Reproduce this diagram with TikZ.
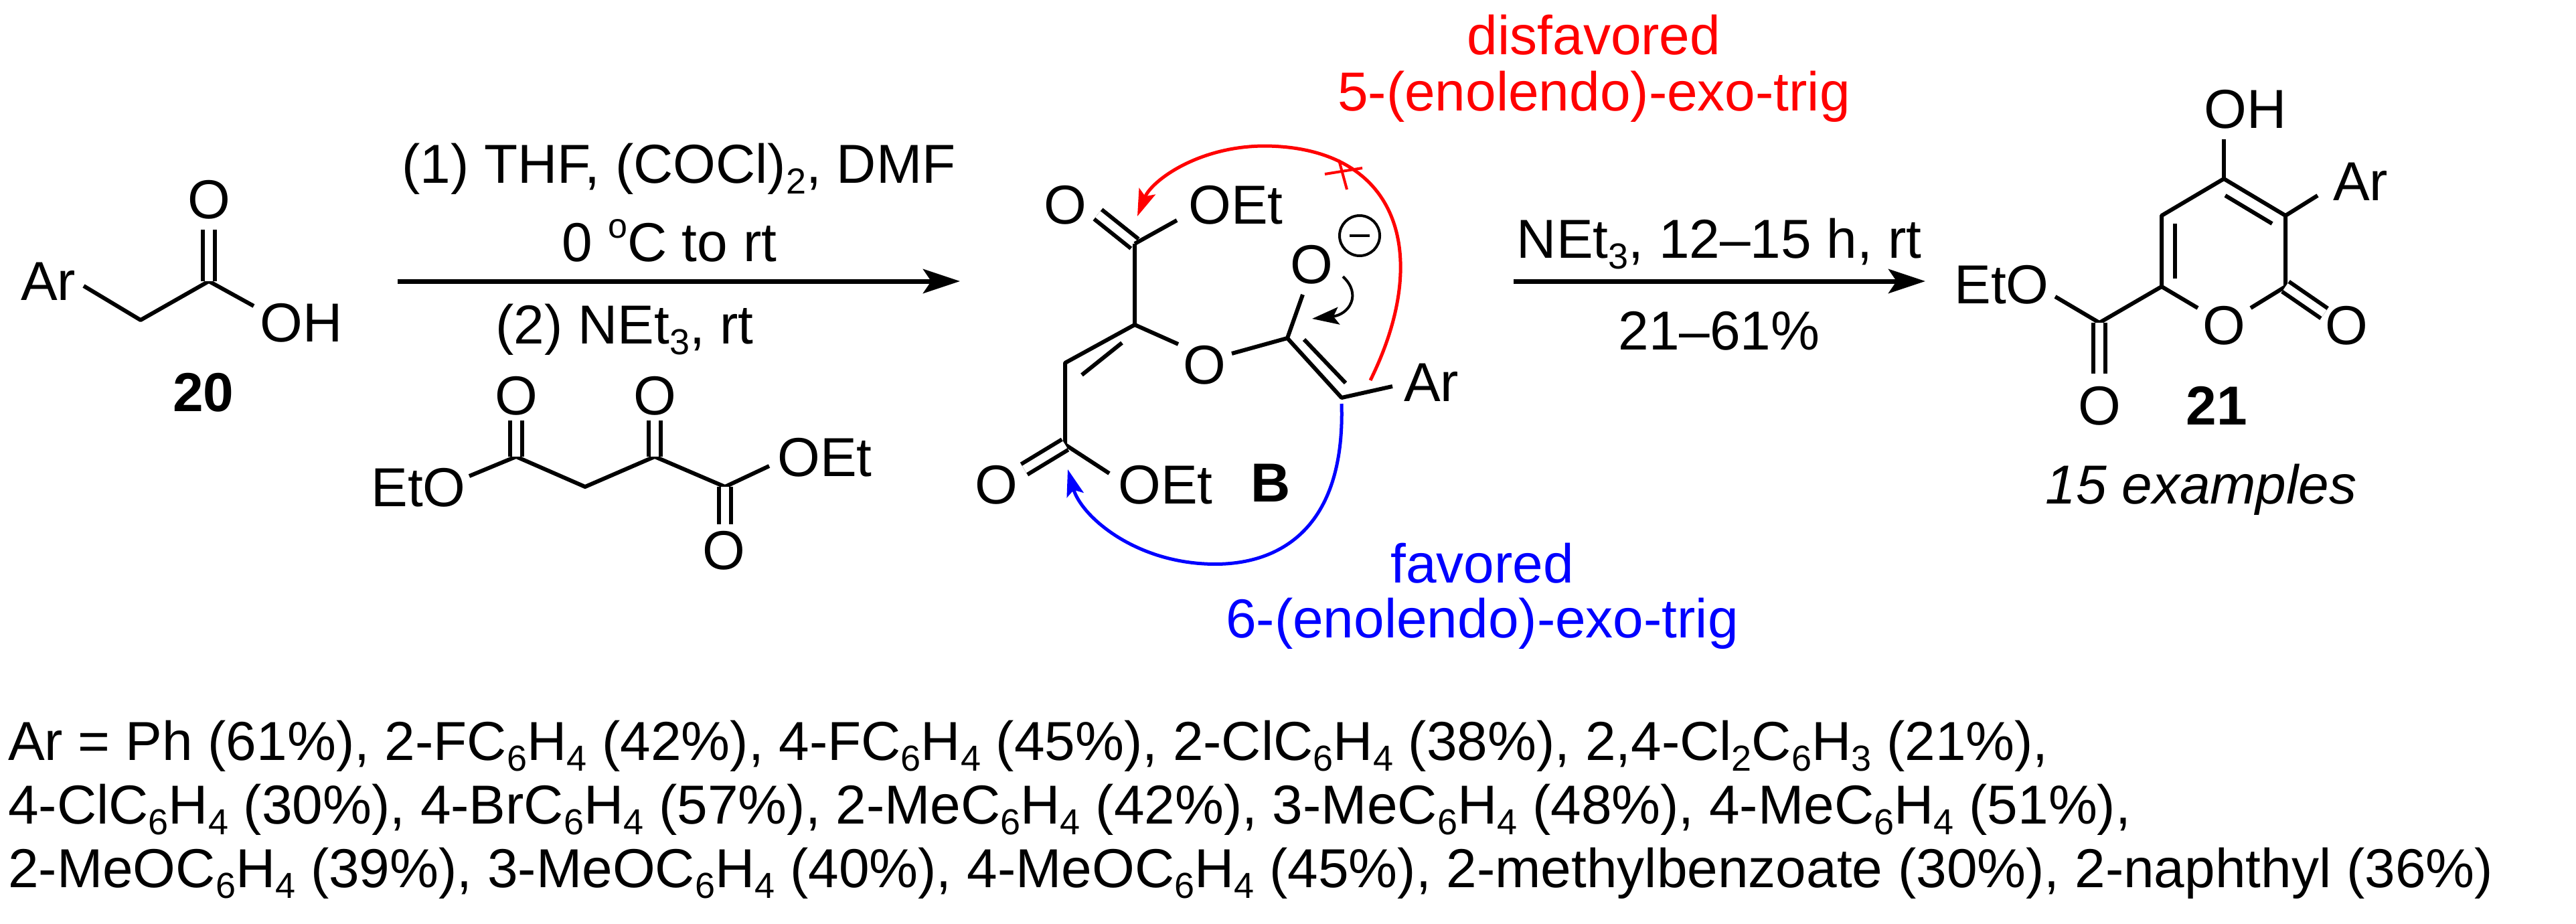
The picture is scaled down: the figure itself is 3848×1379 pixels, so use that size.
\documentclass[tikz,border=0pt]{standalone}
\usepackage{fontspec}
\setmainfont{Liberation Sans}
\usetikzlibrary{arrows.meta}
\newcommand{\degsup}{\raisebox{0.42em}{\fontsize{52}{52}\selectfont o}}
\newcommand{\sbs}[1]{\raisebox{-0.2em}{\fontsize{54}{54}\selectfont #1}}
\begin{document}
\begin{tikzpicture}[x=1pt,y=-1pt,
  lbl/.style={inner sep=0pt,font=\fontsize{82}{96}\selectfont},
  txt/.style={inner sep=0pt,anchor=base,font=\fontsize{82}{96}\selectfont},
  bond/.style={line width=6pt},
  dbl/.style={line width=6pt,double,double distance=12pt},
  rxn/.style={line width=7pt,-{Stealth[length=55pt,width=36pt,inset=12pt]}},
  mech/.style={line width=5pt,-{Stealth[length=40pt,width=26pt,inset=8pt]}}]
\useasboundingbox (0,0) rectangle (3848,1379);
% ---- compound 20
\node[lbl] (ar20) at (72,420) {Ar};
\node[lbl] (o20) at (312,298) {O};
\node[lbl] (oh20) at (450,482) {OH};
\node[lbl,font=\fontsize{82}{96}\selectfont\bfseries] (n20) at (304,586) {20};
\coordinate (a1) at (125,427); \coordinate (a2) at (210,478); \coordinate (a3) at (312,420);
\coordinate (a4) at (312,343); \coordinate (a5) at (379,457);
\draw[bond,line join=round] (a1) -- (a2) -- (a3) -- (a5);
\draw[dbl] (a3) -- (a4);
% ---- arrow 1
\coordinate (r1s) at (594,420); \coordinate (r1e) at (1434,420);
\draw[rxn] (r1s) -- (r1e);
\node[txt] (t1) at (1014,273) {(1) THF, (COCl)\sbs{2}, DMF};
\node[txt] (t2) at (1000,390) {0 \degsup C to rt};
\node[txt] (t3) at (933,513) {(2) NEt\sbs{3}, rt};
% ---- diethyl oxaloacetate
\node[lbl] (eto1) at (625,728) {EtO};
\node[lbl] (ox1) at (771,591) {O};
\node[lbl] (ox2) at (978,591) {O};
\node[lbl] (ox3) at (1081,822) {O};
\node[lbl] (oet1) at (1232,683) {OEt};
\coordinate (b0) at (701,711); \coordinate (b1) at (771,682); \coordinate (b2) at (874,727);
\coordinate (b3) at (978,682); \coordinate (b4) at (1083,727); \coordinate (b5) at (1149,696);
\draw[bond,line join=round] (b0) -- (b1) -- (b2) -- (b3) -- (b4) -- (b5);
\draw[dbl] (b1) -- (771,628);
\draw[dbl] (b3) -- (978,628);
\draw[dbl] (b4) -- (1083,783);
% ---- intermediate B
\node[lbl] (oB1) at (1591,306) {O};
\node[lbl] (oetB1) at (1846,306) {OEt};
\node[lbl] (oB2) at (1488,724) {O};
\node[lbl] (oetB2) at (1741,724) {OEt};
\node[lbl] (oring) at (1799,545) {O};
\node[lbl] (ominus) at (1959,395) {O};
\node[lbl] (arB) at (2138,571) {Ar};
\node[lbl,font=\fontsize{82}{96}\selectfont\bfseries] (nB) at (1898,721) {B};
\node[draw,circle,line width=4pt,minimum size=60pt,inner sep=0pt] (chg) at (2031,352) {};
\draw[line width=4pt] (2016,352) -- (2046,352);
\coordinate (c1) at (1695,364); \coordinate (c2) at (1695,485); \coordinate (c3) at (1591,542);
\coordinate (c4) at (1591,664); \coordinate (c5) at (1923,505); \coordinate (c6) at (2004,594);
\draw[dbl] (c1) -- (1640,320);
\draw[bond] (c1) -- (1758,329);
\draw[bond,line join=round] (c1) -- (c2) -- (c3) -- (c4) -- (1657,707);
\draw[bond] (1616,560) -- (1676,512);
\draw[dbl] (c4) -- (1530,701);
\draw[bond] (c2) -- (1760,514);
\draw[bond] (1840,528) -- (c5);
\draw[bond] (c5) -- (1946,440);
\draw[bond,line join=round] (c5) -- (c6) -- (2080,577);
\draw[bond] (1948,507) -- (2010,572);
% curved electron arrow
\coordinate (e1) at (2006,413); \coordinate (e2) at (1960,476);
\draw[mech,line width=4pt] (e1) .. controls (2035,440) and (2015,470) .. (e2);
% red disfavored arc
\coordinate (rs) at (2047,568); \coordinate (re) at (1699,323);
\draw[red,mech] (rs) .. controls (2140,380) and (2090,220) .. (1890,218)
   .. controls (1790,218) and (1720,270) .. (re);
\draw[red,line width=4pt] (1979,260) -- (2035,251);
\draw[red,line width=4pt] (2000,239) -- (2012,283);
\node[txt,red] (dis1) at (2381,81) {disfavored};
\node[txt,red] (dis2) at (2381,165) {5-(enolendo)-exo-trig};
% blue favored arc
\coordinate (bs) at (2004,603); \coordinate (be) at (1595,701);
\draw[blue,mech] (bs) .. controls (2010,800) and (1900,848) .. (1799,842)
   .. controls (1690,836) and (1615,770) .. (be);
\node[txt,blue] (fav1) at (2214,870) {favored};
\node[txt,blue] (fav2) at (2214,952) {6-(enolendo)-exo-trig};
% ---- arrow 2
\coordinate (r2s) at (2261,420); \coordinate (r2e) at (2876,420);
\draw[rxn] (r2s) -- (r2e);
\node[txt] (t4) at (2568,385) {NEt\sbs{3}, 12–15 h, rt};
\node[txt] (t5) at (2568,522) {21–61\%};
% ---- product 21
\node[lbl] (eto21) at (2990,425) {EtO};
\node[lbl] (o21a) at (3136,606) {O};
\node[lbl] (oh21) at (3354,163) {OH};
\node[lbl] (ar21) at (3526,271) {Ar};
\node[lbl] (o21b) at (3505,486) {O};
\node[lbl] (o21r) at (3322,486) {O};
\node[lbl,font=\fontsize{82}{96}\selectfont\bfseries] (n21) at (3311,606) {21};
\node[txt,font=\fontsize{82}{96}\selectfont\itshape] (ex) at (3288,752) {15 examples};
\coordinate (d0) at (3136,482); \coordinate (d6) at (3229,428); \coordinate (d5) at (3229,322);
\coordinate (d4) at (3322,267); \coordinate (d3) at (3414,322); \coordinate (d2) at (3414,428);
\draw[bond,line join=round] (3070,443) -- (d0) -- (d6) -- (d5) -- (d4) -- (d3) -- (d2) -- (3362,460);
\draw[bond] (d6) -- (3283,460);
\draw[dbl] (d0) -- (3136,558);
\draw[bond] (3249,334) -- (3249,416);
\draw[bond] (3324,292) -- (3394,334);
\draw[bond] (d4) -- (3322,208);
\draw[bond] (d3) -- (3462,292);
\draw[dbl] (d2) -- (3472,468);
% ---- bottom text
\node[txt,anchor=base west] (l1) at (12,1135) {Ar = Ph (61\%), 2-FC\sbs{6}H\sbs{4} (42\%), 4-FC\sbs{6}H\sbs{4} (45\%), 2-ClC\sbs{6}H\sbs{4} (38\%), 2,4-Cl\sbs{2}C\sbs{6}H\sbs{3} (21\%),};
\node[txt,anchor=base west] (l2) at (12,1230) {4-ClC\sbs{6}H\sbs{4} (30\%), 4-BrC\sbs{6}H\sbs{4} (57\%), 2-MeC\sbs{6}H\sbs{4} (42\%), 3-MeC\sbs{6}H\sbs{4} (48\%), 4-MeC\sbs{6}H\sbs{4} (51\%),};
\node[txt,anchor=base west] (l3) at (12,1325) {2-MeOC\sbs{6}H\sbs{4} (39\%), 3-MeOC\sbs{6}H\sbs{4} (40\%), 4-MeOC\sbs{6}H\sbs{4} (45\%), 2-methylbenzoate (30\%), 2-naphthyl (36\%)};
\end{tikzpicture}
\end{document}
